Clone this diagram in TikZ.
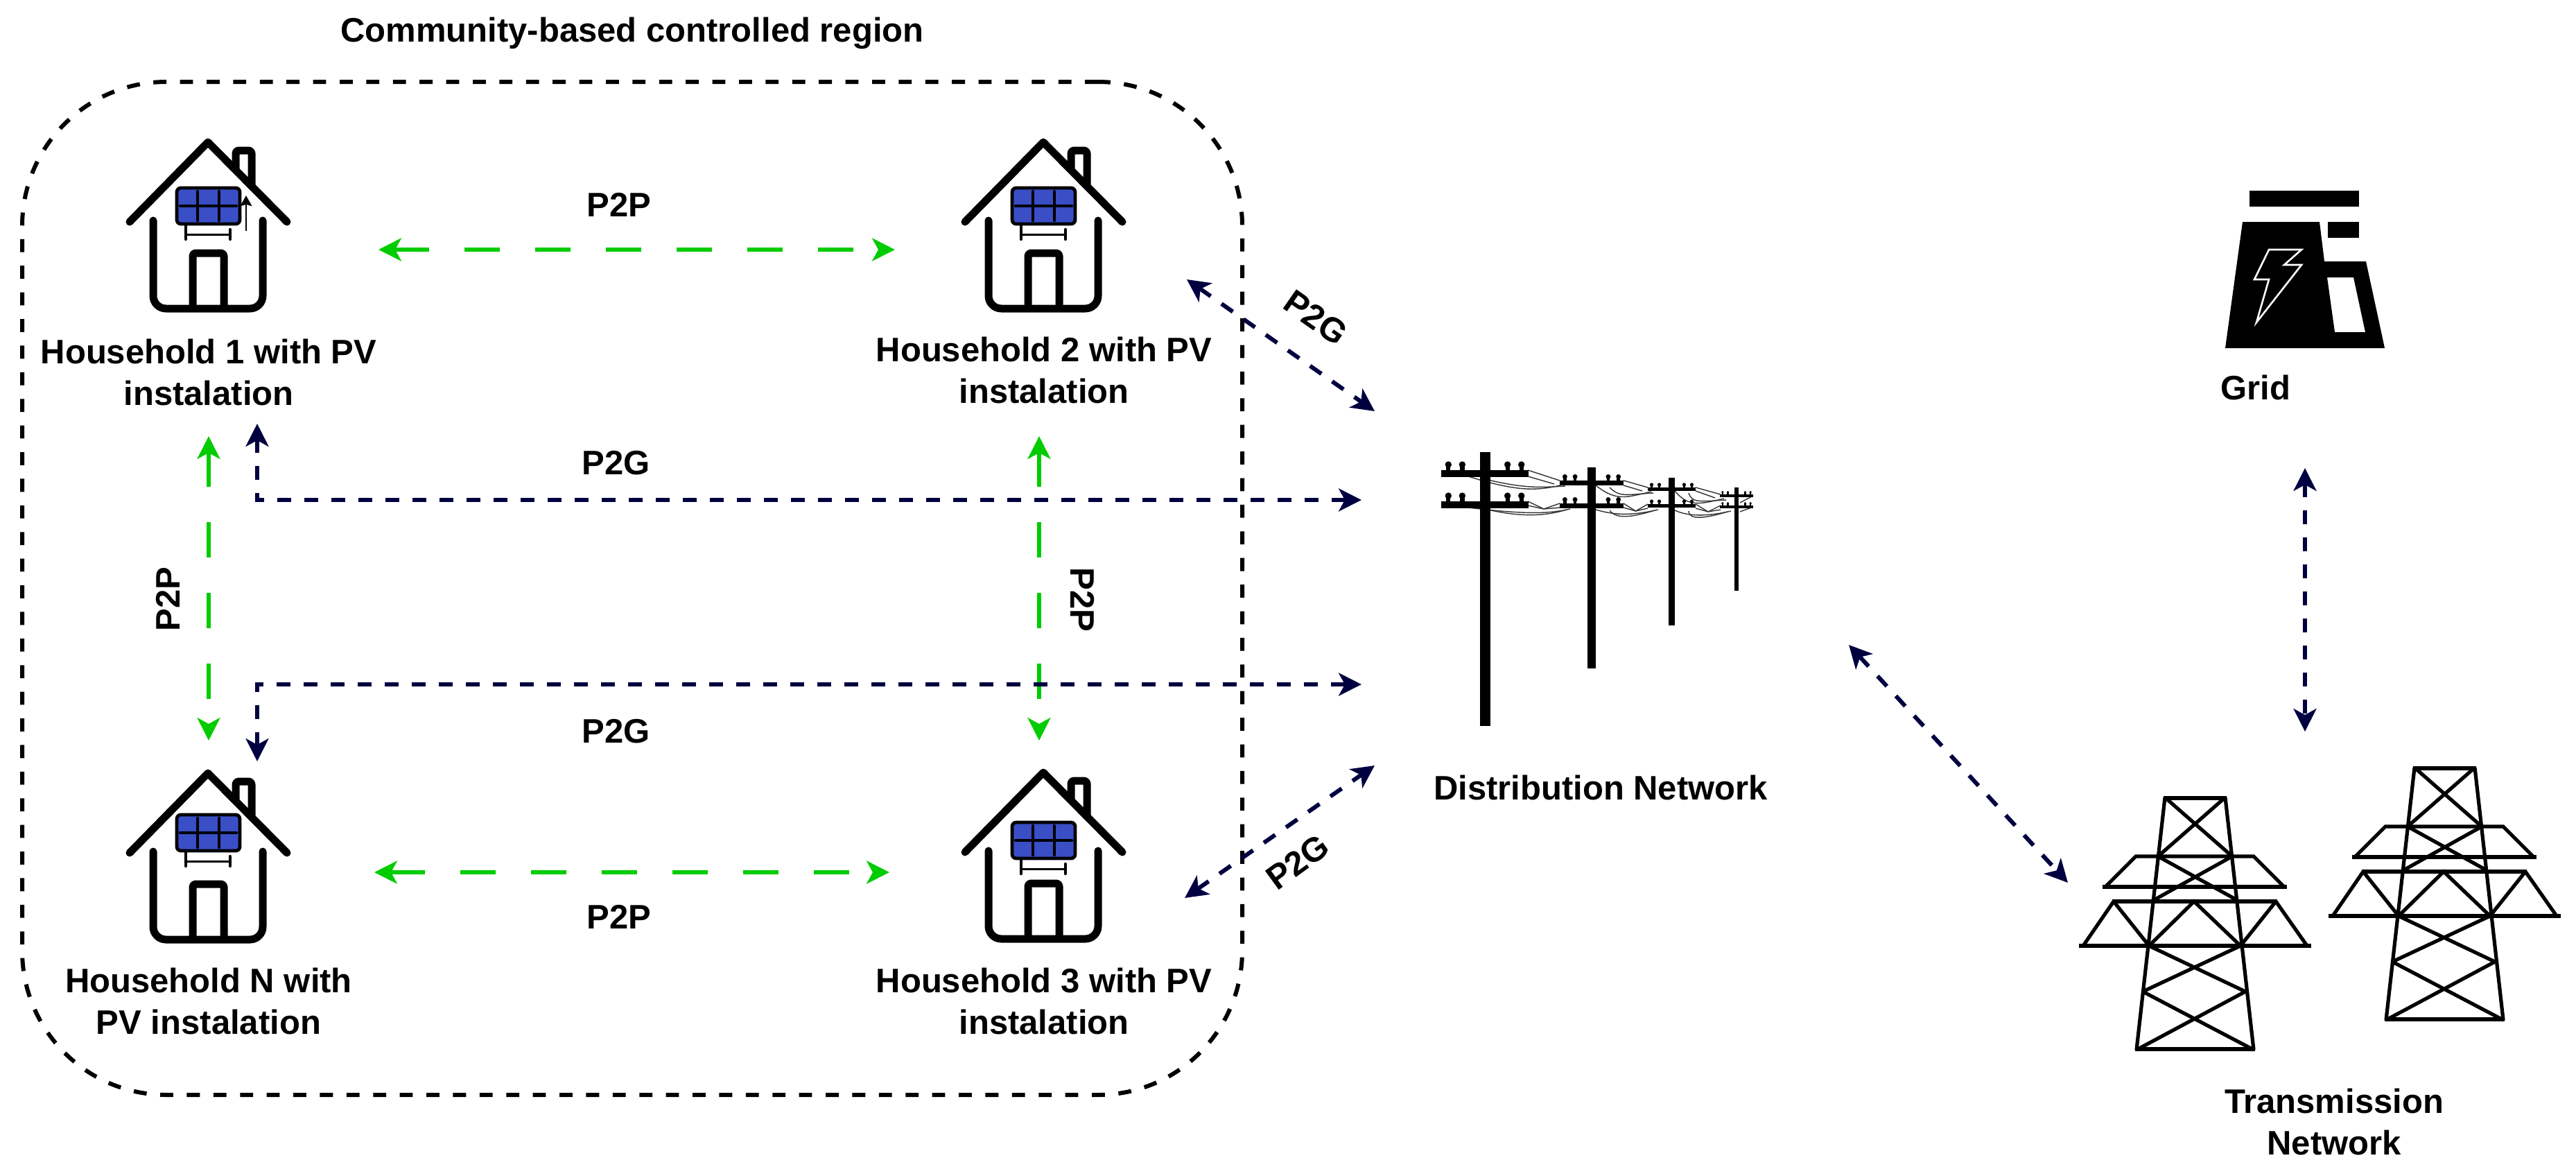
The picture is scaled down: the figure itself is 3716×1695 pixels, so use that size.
\documentclass[tikz,border=0pt]{standalone}
\usepackage{fontspec}
\setmainfont{Liberation Sans}
\usetikzlibrary{arrows.meta}
\definecolor{gridnavy}{HTML}{000040}
\definecolor{p2pgreen}{HTML}{00CC00}
\definecolor{panelblue}{HTML}{3A4EC6}
\tikzset{
  lab/.style={font=\bfseries\fontsize{12.25pt}{15pt}\selectfont,align=center,inner sep=0pt,text=black},
  regionbox/.style={draw=black,line width=1.5pt,rounded corners=52pt,dash pattern=on 4.7pt off 4.9pt,inner sep=0pt},
  p2pline/.style={draw=p2pgreen,line width=1.45pt,dash pattern=on 12.75pt off 12.75pt,{Stealth[length=8.2pt,width=8.2pt,inset=2.2pt]}-{Stealth[length=8.2pt,width=8.2pt,inset=2.2pt]}},
  p2gline/.style={draw=gridnavy,line width=1.5pt,dash pattern=on 5pt off 4.75pt,{Stealth[length=8.2pt,width=8.2pt,inset=2.2pt]}-{Stealth[length=8.2pt,width=8.2pt,inset=2.2pt]}},
  housestroke/.style={draw=black,line width=2.75pt,line cap=round,line join=round},
  panelstroke/.style={draw=black,line width=1.1pt,line cap=round},
  wire/.style={draw=black!80,line width=0.35pt},
  truss/.style={draw=black,line width=1.3pt,line join=miter},
  trussbar/.style={draw=black,line width=1.65pt},
}
% apex x, apex y, panel top relative to the apex
\newcommand\household[3]{%
  \begin{scope}[shift={(#1,#2)}]
    \draw[housestroke] (-113,115) -- (0,0) -- (114,115);
    \draw[housestroke,rounded corners=1pt,line cap=butt] (40,42) -- (40,12) -- (63,12) -- (63,66);
    \draw[housestroke,rounded corners=4.6pt] (-79,113) -- (-79,240) -- (79,240) -- (79,113);
    \draw[housestroke,rounded corners=1pt,line cap=butt] (-22,240) -- (-22,160) -- (23,160) -- (23,240);
    \draw[draw=black,line width=1.2pt,fill=panelblue,rounded corners=1.5pt] (-45,#3) rectangle (46,#3+52);
    \draw[panelstroke] (-15,#3+5) -- (-15,#3+47) (16,#3+5) -- (16,#3+47) (-40,#3+26) -- (41,#3+26);
    \draw[panelstroke] (-32,#3+52) -- (-32,#3+74) (32,#3+60) -- (32,#3+74);
    \draw[draw=black,line width=0.75pt] (-32,#3+67) -- (32,#3+67);
  \end{scope}}
% centre x, top, bottom, width, arm half width, arm 1 top, arm 2 top, arm height
\newcommand\utilitypole[8]{%
  \fill[black] ({#1-#4/2},#2) rectangle ({#1+#4/2},#3);
  \foreach \ay in {#6,#7}{
    \fill[black] ({#1-#5},\ay) rectangle ({#1+#5},{\ay+#8});
    \foreach \f in {-0.84,-0.52,0.52,0.84}{
      \fill[black] ({#1+\f*#5-0.05*#5},{\ay-#8*0.9}) rectangle ({#1+\f*#5+0.05*#5},\ay);
      \fill[black] ({#1+\f*#5},{\ay-#8*0.8}) circle[radius={0.075*#5}];
    }
  }}
% arm right x, upper arm y, upper arm bottom, next arm left x, next upper arm y, lower arm y, next lower arm y, sag start
\newcommand\spanwires[8]{%
  \draw[wire] (#1,#2) -- (#4,#5) (#1,#3) -- ({#4-8},{#5+5});
  \draw[wire] (#8,#3) .. controls ({#1-10},{#3+24}) and ({#4-30},{#5+14}) .. ({#4+5},{#5+6});
  \draw[wire] ({#8+20},{#3+3}) .. controls ({#1-5},{#3+18}) and ({#4-30},{#5+10}) .. ({#4+8},{#5+8});
  \draw[wire] (#1,#6) -- ({(#1+#4)/2},{#6+11}) -- (#4,#7);
  \draw[wire] (#1,{#6+6}) -- ({(#1+#4)/2},{#6+11}) -- (#4,{#7+6});
  \draw[wire] (#8,{#6+9}) .. controls ({#1-10},{#6+18}) and ({#4-20},{#7+16}) .. ({#4+15},{#7+8});
  \draw[wire] ({#8+20},{#6+10}) .. controls ({#1-10},{#6+24}) and ({#4-20},{#7+18}) .. ({#4+10},{#7+9});}
% pylon drawn in the left tower's coordinates
\newcommand\pylon[2]{%
  \begin{scope}[shift={(#1,#2)}]
    \draw[truss] (3123,1150) -- (3082,1514) (3210,1150) -- (3251,1514);
    \draw[truss] (3123,1150) -- (3220,1235) (3210,1150) -- (3113,1235);
    \draw[truss] (3113,1235) -- (3227,1298) (3220,1235) -- (3107,1298);
    \draw[truss] (3037,1279) -- (3081,1235) -- (3251,1235) -- (3295,1279);
    \draw[truss] (3005,1364) -- (3049,1300) -- (3283,1300) -- (3328,1364);
    \draw[truss] (3049,1300) -- (3100,1364) -- (3165,1300) -- (3232,1364) -- (3283,1300);
    \draw[truss] (3100,1364) -- (3239,1430) (3232,1364) -- (3091,1430);
    \draw[truss] (3091,1430) -- (3251,1514) (3239,1430) -- (3082,1514);
    \draw[trussbar] (3121,1151) -- (3212,1151) (3033,1279) -- (3299,1279) (3047,1300) -- (3285,1300)
      (2999,1364) -- (3334,1364) (3080,1513) -- (3253,1513);
  \end{scope}}
\begin{document}
\begin{tikzpicture}[x=0.25pt,y=-0.25pt]
\useasboundingbox (0,0) rectangle (3716,1695);
\fill[white] (0,0) rectangle (3716,1695);

\node[regionbox,minimum width=440pt,minimum height=365.25pt] (region) at (912,848.5) {};
\node[lab] (title) at (912,48) {Community-based controlled region};

\household{300}{205}{66}
\household{1505}{205}{66}
\household{300}{1115}{60}
\household{1505}{1114}{72}
% small arrow on the first house
\coordinate (minibase) at (355,333);
\coordinate (minitip) at (355,282);
\draw[draw=black,line width=0.6pt,-{Stealth[length=3.8pt,width=4.2pt,inset=0.6pt]}] (minibase) -- (minitip);

\node[lab] (h1) at (301,537) {Household 1 with PV\\instalation};
\node[lab] (h2) at (1506,534) {Household 2 with PV\\instalation};
\node[lab] (hn) at (301,1444) {Household N with\\PV instalation};
\node[lab] (h3) at (1506,1444) {Household 3 with PV\\instalation};

% utility poles
\spanwires{2204}{678}{687}{2250}{693}{723}{726}{2118}
\spanwires{2342}{693}{700}{2377}{703}{726}{727}{2302}
\spanwires{2446}{703}{708}{2482}{713}{727}{729}{2416}
\draw[wire] (2529,715) -- (2510,725) (2529,731) -- (2510,738);
\utilitypole{2142}{652}{1047}{15}{62.75}{678}{723}{10}
\utilitypole{2296}{674}{964}{11.5}{46}{693}{726}{7}
\utilitypole{2411.5}{689}{902}{8.5}{34.5}{703}{727}{5}
\utilitypole{2505}{703}{852}{5.5}{24}{713}{729}{4}
\node[lab] (dist) at (2309,1136) {Distribution Network};

% grid icon
\fill[black] (3245,275) rectangle (3403,298);
\fill[black] (3358,320) rectangle (3403,343);
\fill[black,even odd rule] (3235,320) -- (3346,320) -- (3353,377) -- (3413,377) -- (3440,502) -- (3210,502) -- cycle
  (3357,400) -- (3395,400) -- (3412,479) -- (3368,479) -- cycle;
\draw[draw=white,line width=0.65pt,line join=miter] (3273,360) -- (3320,360) -- (3295,382) -- (3320,382) -- (3255,465) -- (3273,403) -- (3252,403) -- cycle;
\node[lab] (grid) at (3254,559) {Grid};

% towers
\pylon{0}{0}
\pylon{360}{-43}
\node[lab] (trans) at (3367,1618) {Transmission\\Network};

% connector ends
\coordinate (ptlL) at (546,360);
\coordinate (ptlR) at (1291,360);
\coordinate (pblL) at (540,1258);
\coordinate (pblR) at (1283,1258);
\coordinate (pvlT) at (301,629);
\coordinate (pvlB) at (301,1068);
\coordinate (pvrT) at (1499,629);
\coordinate (pvrB) at (1499,1068);
\coordinate (e1up) at (371,611);
\coordinate (e1cn) at (371,721);
\coordinate (e1rt) at (1964,721);
\coordinate (e2dn) at (371,1098);
\coordinate (e2cn) at (371,987);
\coordinate (e2rt) at (1964,987);
\coordinate (d1a) at (1712,403);
\coordinate (d1b) at (1983,593);
\coordinate (d2a) at (1709,1295);
\coordinate (d2b) at (1983,1104);
\coordinate (d3a) at (2667,930);
\coordinate (d3b) at (2983,1273);
\coordinate (d4a) at (3325,675);
\coordinate (d4b) at (3325,1055);

\draw[p2pline] (ptlL) -- (ptlR);
\draw[p2pline] (pblL) -- (pblR);
\draw[p2pline] (pvlT) -- (pvlB);
\draw[p2pline] (pvrT) -- (pvrB);
\draw[p2gline] (e1up) -- (e1cn) -- (e1rt);
\draw[p2gline] (e2dn) -- (e2cn) -- (e2rt);
\draw[p2gline] (d1a) -- (d1b);
\draw[p2gline] (d2a) -- (d2b);
\draw[p2gline] (d3a) -- (d3b);
\draw[p2gline] (d4a) -- (d4b);

\node[lab] (l1) at (893,295) {P2P};
\node[lab] (l2) at (893,1322) {P2P};
\node[lab] (l3) at (889,668) {P2G};
\node[lab] (l4) at (889,1055) {P2G};
\node[lab,rotate=90] (l5) at (242,864) {P2P};
\node[lab,rotate=-90] (l6) at (1562,865) {P2P};
\node[lab,rotate=-35] (l7) at (1898,458) {P2G};
\node[lab,rotate=36] (l8) at (1872,1243) {P2G};
\end{tikzpicture}
\end{document}
